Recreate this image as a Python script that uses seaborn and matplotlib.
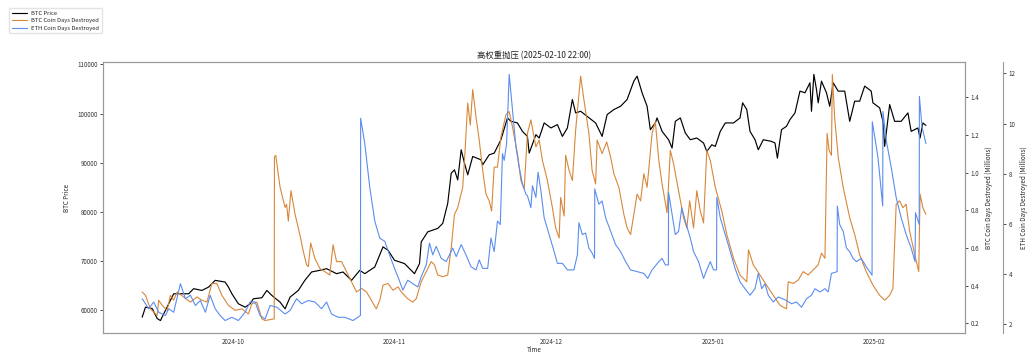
import matplotlib
matplotlib.use("Agg")
import matplotlib.pyplot as plt
import matplotlib.dates as mdates
import pandas as pd
import seaborn as sns

# BTC price
btc_time = [
    "2024-09-13 13:00", "2024-09-14 04:00", "2024-09-15 11:00", "2024-09-16 10:00", "2024-09-17 01:00", "2024-09-18 00:00", "2024-09-19 14:00", "2024-09-20 13:00", "2024-09-22 11:00", "2024-09-23 10:00",
    "2024-09-25 00:00", "2024-09-26 07:00", "2024-09-27 13:00", "2024-09-29 11:00", "2024-09-30 02:00", "2024-09-30 18:00", "2024-10-02 00:00", "2024-10-03 07:00", "2024-10-04 06:00", "2024-10-04 21:00",
    "2024-10-06 12:00", "2024-10-07 11:00", "2024-10-08 10:00", "2024-10-10 00:00", "2024-10-10 23:00", "2024-10-11 22:00", "2024-10-13 12:00", "2024-10-14 18:00", "2024-10-16 01:00", "2024-10-17 15:00",
    "2024-10-18 22:00", "2024-10-20 20:00", "2024-10-22 02:00", "2024-10-23 17:00", "2024-10-25 07:00", "2024-10-26 06:00", "2024-10-28 04:00", "2024-10-29 18:00", "2024-10-30 17:00", "2024-10-31 23:00",
    "2024-11-02 21:00", "2024-11-04 19:00", "2024-11-05 18:00", "2024-11-06 02:00", "2024-11-07 08:00", "2024-11-09 06:00", "2024-11-10 05:00", "2024-11-11 04:00", "2024-11-11 20:00", "2024-11-12 11:00",
    "2024-11-13 02:00", "2024-11-13 18:00", "2024-11-14 09:00", "2024-11-15 00:00", "2024-11-15 23:00", "2024-11-17 13:00", "2024-11-17 21:00", "2024-11-19 03:00", "2024-11-20 02:00", "2024-11-21 09:00",
    "2024-11-22 15:00", "2024-11-23 07:00", "2024-11-24 13:00", "2024-11-25 12:00", "2024-11-26 11:00", "2024-11-26 19:00", "2024-11-28 02:00", "2024-11-28 17:00", "2024-11-29 16:00", "2024-11-30 23:00",
    "2024-12-02 05:00", "2024-12-03 04:00", "2024-12-04 03:00", "2024-12-05 02:00", "2024-12-05 17:00", "2024-12-06 16:00", "2024-12-07 22:00", "2024-12-09 13:00", "2024-12-10 19:00", "2024-12-11 18:00",
    "2024-12-13 01:00", "2024-12-14 08:00", "2024-12-15 14:00", "2024-12-16 21:00", "2024-12-17 12:00", "2024-12-18 11:00", "2024-12-19 10:00", "2024-12-20 01:00", "2024-12-21 00:00", "2024-12-21 08:00",
    "2024-12-22 07:00", "2024-12-23 13:00", "2024-12-24 05:00", "2024-12-24 20:00", "2024-12-25 19:00", "2024-12-26 18:00", "2024-12-27 17:00", "2024-12-28 23:00", "2024-12-30 06:00", "2024-12-30 21:00",
    "2024-12-31 20:00", "2025-01-01 12:00", "2025-01-02 11:00", "2025-01-03 10:00", "2025-01-05 00:00", "2025-01-06 06:00", "2025-01-06 18:00", "2025-01-07 13:00", "2025-01-08 04:00", "2025-01-09 03:00",
    "2025-01-09 18:00", "2025-01-10 17:00", "2025-01-12 07:00", "2025-01-12 23:00", "2025-01-13 10:00", "2025-01-14 05:00", "2025-01-15 04:00", "2025-01-15 20:00", "2025-01-16 19:00", "2025-01-17 18:00",
    "2025-01-18 17:00", "2025-01-19 16:00", "2025-01-19 23:00", "2025-01-20 10:00", "2025-01-20 22:00", "2025-01-21 06:00", "2025-01-21 21:00", "2025-01-22 20:00", "2025-01-23 11:00", "2025-01-24 03:00",
    "2025-01-25 02:00", "2025-01-26 08:00", "2025-01-27 07:00", "2025-01-28 06:00", "2025-01-29 05:00", "2025-01-30 04:00", "2025-01-31 10:00", "2025-01-31 18:00", "2025-02-02 01:00", "2025-02-02 16:00",
    "2025-02-03 00:00", "2025-02-03 23:00", "2025-02-04 22:00", "2025-02-06 04:00", "2025-02-07 11:00", "2025-02-08 02:00", "2025-02-09 09:00", "2025-02-09 19:00", "2025-02-10 08:00", "2025-02-10 22:00",
]
btc_price = [
    58630, 60680, 60400, 58370, 57960, 60000, 63400, 63400, 63400, 64430,
    64080, 64760, 66120, 65780, 64760, 63400, 61360, 60680, 61360, 62380,
    62590, 64080, 63060, 61700, 60340, 62720, 64080, 66120, 67820, 68160,
    68500, 67480, 67820, 66120, 68160, 67480, 68840, 72920, 72240, 70200,
    69530, 67480, 69530, 73940, 75980, 76670, 77690, 81770, 87900, 88570,
    86530, 92650, 89940, 87550, 91290, 90610, 89590, 91630, 91970, 94690,
    99120, 98430, 98100, 96390, 95370, 91970, 95710, 95040, 98100, 97080,
    97760, 95370, 97080, 102860, 100140, 100470, 99450, 98100, 95370, 99800,
    100820, 101490, 102860, 106590, 107610, 104220, 101490, 96730, 98100, 99120,
    96390, 94690, 93000, 98430, 99120, 96060, 94690, 95040, 94020, 92310,
    93670, 93330, 96390, 98100, 98100, 99120, 102180, 100820, 96390, 94690,
    92650, 94690, 94350, 94020, 90960, 96730, 97420, 98780, 100140, 104560,
    104220, 106260, 100470, 107960, 104900, 102180, 106590, 104220, 101490, 106260,
    104560, 104560, 98430, 102520, 102520, 105580, 104560, 102180, 101160, 98430,
    93330, 101840, 98430, 98430, 100140, 96390, 97080, 95040, 98100, 97600,
]

# BTC coin days destroyed (millions)
btc_cdd_time = [
    "2024-09-13 13:00", "2024-09-14 04:00", "2024-09-15 03:00", "2024-09-16 10:00", "2024-09-16 17:00", "2024-09-17 09:00", "2024-09-18 08:00", "2024-09-18 23:00", "2024-09-19 14:00", "2024-09-20 06:00",
    "2024-09-21 12:00", "2024-09-22 19:00", "2024-09-24 01:00", "2024-09-25 00:00", "2024-09-25 23:00", "2024-09-26 22:00", "2024-09-27 21:00", "2024-09-28 20:00", "2024-09-30 02:00", "2024-10-01 09:00",
    "2024-10-02 16:00", "2024-10-03 22:00", "2024-10-04 14:00", "2024-10-05 13:00", "2024-10-06 12:00", "2024-10-07 03:00", "2024-10-08 21:00", "2024-10-08 22:00", "2024-10-09 04:00", "2024-10-10 00:00",
    "2024-10-10 23:00", "2024-10-11 06:00", "2024-10-11 14:00", "2024-10-12 02:00", "2024-10-12 21:00", "2024-10-13 19:00", "2024-10-14 11:00", "2024-10-15 02:00", "2024-10-15 10:00", "2024-10-15 21:00",
    "2024-10-16 16:00", "2024-10-17 15:00", "2024-10-18 14:00", "2024-10-19 13:00", "2024-10-20 04:00", "2024-10-20 20:00", "2024-10-21 19:00", "2024-10-22 18:00", "2024-10-23 17:00", "2024-10-24 16:00",
    "2024-10-25 15:00", "2024-10-26 14:00", "2024-10-27 12:00", "2024-10-28 11:00", "2024-10-29 03:00", "2024-10-29 18:00", "2024-10-30 17:00", "2024-10-31 16:00", "2024-11-01 15:00", "2024-11-02 06:00",
    "2024-11-03 12:00", "2024-11-04 11:00", "2024-11-05 03:00", "2024-11-06 02:00", "2024-11-07 01:00", "2024-11-08 00:00", "2024-11-08 15:00", "2024-11-09 06:00", "2024-11-10 05:00", "2024-11-11 04:00",
    "2024-11-11 20:00", "2024-11-12 11:00", "2024-11-13 02:00", "2024-11-14 01:00", "2024-11-14 12:00", "2024-11-15 00:00", "2024-11-15 12:00", "2024-11-15 23:00", "2024-11-16 14:00", "2024-11-17 05:00",
    "2024-11-17 21:00", "2024-11-18 12:00", "2024-11-19 03:00", "2024-11-19 14:00", "2024-11-20 02:00", "2024-11-20 17:00", "2024-11-21 09:00", "2024-11-22 08:00", "2024-11-22 23:00", "2024-11-23 14:00",
    "2024-11-24 13:00", "2024-11-25 05:00", "2024-11-25 20:00", "2024-11-26 11:00", "2024-11-27 03:00", "2024-11-28 02:00", "2024-11-28 17:00", "2024-11-29 08:00", "2024-11-30 07:00", "2024-12-01 06:00",
    "2024-12-01 21:00", "2024-12-02 13:00", "2024-12-02 20:00", "2024-12-03 12:00", "2024-12-03 19:00", "2024-12-04 11:00", "2024-12-05 02:00", "2024-12-05 17:00", "2024-12-06 16:00", "2024-12-07 07:00",
    "2024-12-08 06:00", "2024-12-08 21:00", "2024-12-09 13:00", "2024-12-09 20:00", "2024-12-10 19:00", "2024-12-11 16:00", "2024-12-12 10:00", "2024-12-13 01:00", "2024-12-14 00:00", "2024-12-14 23:00",
    "2024-12-15 14:00", "2024-12-16 06:00", "2024-12-16 21:00", "2024-12-17 12:00", "2024-12-18 04:00", "2024-12-18 19:00", "2024-12-19 10:00", "2024-12-20 09:00", "2024-12-21 00:00", "2024-12-21 16:00",
    "2024-12-22 07:00", "2024-12-23 06:00", "2024-12-23 21:00", "2024-12-24 12:00", "2024-12-25 11:00", "2024-12-26 10:00", "2024-12-27 01:00", "2024-12-27 14:00", "2024-12-28 08:00", "2024-12-28 23:00",
    "2024-12-29 15:00", "2024-12-30 06:00", "2024-12-30 21:00", "2024-12-31 13:00", "2025-01-01 12:00", "2025-01-02 18:00", "2025-01-03 17:00", "2025-01-05 00:00", "2025-01-06 06:00", "2025-01-07 13:00",
    "2025-01-07 21:00", "2025-01-08 19:00", "2025-01-10 02:00", "2025-01-11 08:00", "2025-01-12 15:00", "2025-01-13 22:00", "2025-01-15 04:00", "2025-01-15 12:00", "2025-01-16 11:00", "2025-01-17 10:00",
    "2025-01-18 09:00", "2025-01-19 08:00", "2025-01-20 07:00", "2025-01-21 06:00", "2025-01-21 21:00", "2025-01-22 13:00", "2025-01-22 23:00", "2025-01-23 08:00", "2025-01-23 19:00", "2025-01-23 23:00",
    "2025-01-24 10:00", "2025-01-25 02:00", "2025-01-26 01:00", "2025-01-27 07:00", "2025-01-28 06:00", "2025-01-29 05:00", "2025-01-30 11:00", "2025-01-31 18:00", "2025-02-02 01:00", "2025-02-03 00:00",
    "2025-02-03 23:00", "2025-02-04 14:00", "2025-02-05 05:00", "2025-02-05 21:00", "2025-02-06 12:00", "2025-02-07 03:00", "2025-02-07 19:00", "2025-02-08 17:00", "2025-02-09 13:00", "2025-02-09 19:00",
    "2025-02-10 08:00", "2025-02-10 22:00",
]
btc_cdd = [
    0.366, 0.348, 0.276, 0.241, 0.322, 0.295, 0.268, 0.348, 0.322, 0.366,
    0.339, 0.312, 0.339, 0.322, 0.312, 0.411, 0.411, 0.348, 0.295, 0.268,
    0.276, 0.249, 0.303, 0.312, 0.223, 0.214, 0.223, 1.083, 1.092, 0.922,
    0.815, 0.832, 0.742, 0.904, 0.778, 0.671, 0.581, 0.510, 0.500, 0.626,
    0.545, 0.491, 0.474, 0.456, 0.617, 0.527, 0.527, 0.474, 0.420, 0.366,
    0.384, 0.366, 0.322, 0.276, 0.322, 0.402, 0.411, 0.375, 0.393, 0.366,
    0.330, 0.312, 0.330, 0.420, 0.474, 0.527, 0.510, 0.456, 0.447, 0.456,
    0.599, 0.778, 0.814, 0.922, 1.119, 1.370, 1.253, 1.441, 1.298, 1.173,
    1.011, 0.886, 0.850, 0.796, 1.029, 1.029, 1.190, 1.307, 1.325, 1.244,
    1.101, 0.958, 0.913, 1.209, 1.280, 1.137, 1.173, 1.065, 0.958, 0.814,
    0.706, 0.653, 0.868, 0.769, 1.092, 1.011, 0.958, 1.226, 1.513, 1.388,
    1.209, 1.011, 0.940, 1.173, 1.101, 1.163, 1.083, 0.994, 0.922, 0.778,
    0.706, 0.671, 0.778, 0.886, 0.850, 0.994, 0.922, 1.209, 1.270, 1.065,
    0.940, 0.787, 1.119, 1.047, 0.904, 0.760, 0.706, 0.850, 0.706, 0.904,
    0.796, 0.733, 1.119, 1.065, 0.922, 0.796, 0.671, 0.545, 0.456, 0.420,
    0.590, 0.510, 0.456, 0.402, 0.348, 0.295, 0.276, 0.420, 0.411, 0.429,
    0.474, 0.456, 0.483, 0.510, 0.572, 0.545, 1.209, 1.119, 1.092, 1.522,
    1.289, 1.083, 0.922, 0.760, 0.671, 0.563, 0.474, 0.402, 0.348, 0.322,
    0.348, 0.384, 0.832, 0.850, 0.814, 0.832, 0.689, 0.572, 0.474, 0.886,
    0.814, 0.778,
]

# ETH coin days destroyed (millions)
eth_cdd_time = [
    "2024-09-13 13:00", "2024-09-14 19:00", "2024-09-15 18:00", "2024-09-16 17:00", "2024-09-18 00:00", "2024-09-18 15:00", "2024-09-19 14:00", "2024-09-20 21:00", "2024-09-21 20:00", "2024-09-22 19:00",
    "2024-09-23 18:00", "2024-09-24 17:00", "2024-09-25 16:00", "2024-09-26 14:00", "2024-09-27 13:00", "2024-09-28 12:00", "2024-09-29 11:00", "2024-09-30 18:00", "2024-10-02 00:00", "2024-10-03 07:00",
    "2024-10-04 06:00", "2024-10-05 05:00", "2024-10-06 04:00", "2024-10-07 03:00", "2024-10-08 02:00", "2024-10-09 09:00", "2024-10-10 23:00", "2024-10-11 22:00", "2024-10-13 04:00", "2024-10-14 03:00",
    "2024-10-15 10:00", "2024-10-16 16:00", "2024-10-17 23:00", "2024-10-18 22:00", "2024-10-19 21:00", "2024-10-21 03:00", "2024-10-22 10:00", "2024-10-24 00:00", "2024-10-25 10:00", "2024-10-25 11:00",
    "2024-10-26 06:00", "2024-10-27 05:00", "2024-10-28 04:00", "2024-10-29 03:00", "2024-10-30 02:00", "2024-10-31 00:00", "2024-10-31 23:00", "2024-11-01 22:00", "2024-11-02 13:00", "2024-11-03 12:00",
    "2024-11-04 11:00", "2024-11-05 10:00", "2024-11-06 02:00", "2024-11-07 01:00", "2024-11-07 16:00", "2024-11-08 07:00", "2024-11-08 23:00", "2024-11-09 22:00", "2024-11-10 21:00", "2024-11-12 03:00",
    "2024-11-12 19:00", "2024-11-13 18:00", "2024-11-14 16:00", "2024-11-15 15:00", "2024-11-16 14:00", "2024-11-17 05:00", "2024-11-17 21:00", "2024-11-18 20:00", "2024-11-19 11:00", "2024-11-20 02:00",
    "2024-11-20 17:00", "2024-11-21 06:00", "2024-11-21 16:00", "2024-11-22 00:00", "2024-11-22 11:00", "2024-11-22 23:00", "2024-11-23 14:00", "2024-11-24 06:00", "2024-11-24 21:00", "2024-11-25 12:00",
    "2024-11-26 04:00", "2024-11-26 11:00", "2024-11-27 03:00", "2024-11-27 10:00", "2024-11-28 02:00", "2024-11-28 12:00", "2024-11-29 01:00", "2024-11-29 16:00", "2024-11-30 15:00", "2024-12-01 14:00",
    "2024-12-02 05:00", "2024-12-03 04:00", "2024-12-04 03:00", "2024-12-05 09:00", "2024-12-06 01:00", "2024-12-06 08:00", "2024-12-07 00:00", "2024-12-07 15:00", "2024-12-08 06:00", "2024-12-08 21:00",
    "2024-12-09 08:00", "2024-12-09 09:00", "2024-12-10 04:00", "2024-12-10 19:00", "2024-12-11 11:00", "2024-12-12 10:00", "2024-12-13 09:00", "2024-12-14 08:00", "2024-12-15 07:00", "2024-12-16 06:00",
    "2024-12-17 12:00", "2024-12-18 19:00", "2024-12-19 13:00", "2024-12-20 09:00", "2024-12-21 16:00", "2024-12-22 07:00", "2024-12-22 22:00", "2024-12-23 12:00", "2024-12-23 13:00", "2024-12-24 05:00",
    "2024-12-24 20:00", "2024-12-25 11:00", "2024-12-26 02:00", "2024-12-26 18:00", "2024-12-27 17:00", "2024-12-28 08:00", "2024-12-29 07:00", "2024-12-30 06:00", "2024-12-30 21:00", "2024-12-31 13:00",
    "2025-01-01 04:00", "2025-01-01 18:00", "2025-01-01 19:00", "2025-01-02 11:00", "2025-01-03 10:00", "2025-01-04 09:00", "2025-01-05 07:00", "2025-01-06 06:00", "2025-01-07 05:00", "2025-01-08 04:00",
    "2025-01-09 03:00", "2025-01-09 18:00", "2025-01-10 10:00", "2025-01-11 01:00", "2025-01-11 16:00", "2025-01-12 15:00", "2025-01-13 14:00", "2025-01-14 13:00", "2025-01-15 04:00", "2025-01-16 03:00",
    "2025-01-17 02:00", "2025-01-18 01:00", "2025-01-19 00:00", "2025-01-19 23:00", "2025-01-20 15:00", "2025-01-21 14:00", "2025-01-22 13:00", "2025-01-23 04:00", "2025-01-23 19:00", "2025-01-24 21:00",
    "2025-01-24 22:00", "2025-01-25 09:00", "2025-01-26 01:00", "2025-01-26 16:00", "2025-01-27 07:00", "2025-01-27 22:00", "2025-01-28 14:00", "2025-01-29 12:00", "2025-01-30 11:00", "2025-01-31 14:00",
    "2025-01-31 15:00", "2025-02-01 17:00", "2025-02-02 15:00", "2025-02-02 16:00", "2025-02-03 07:00", "2025-02-04 06:00", "2025-02-05 05:00", "2025-02-06 04:00", "2025-02-07 03:00", "2025-02-08 02:00",
    "2025-02-08 20:00", "2025-02-08 22:00", "2025-02-09 15:00", "2025-02-09 16:00", "2025-02-10 04:00", "2025-02-10 22:00",
]
eth_cdd = [
    3.01, 2.61, 2.88, 2.47, 2.34, 2.61, 2.47, 3.61, 3.01, 3.15,
    2.74, 2.94, 2.47, 3.15, 2.61, 2.34, 2.14, 2.27, 2.14, 2.47,
    2.88, 2.88, 2.34, 2.20, 2.74, 2.67, 2.40, 2.54, 3.01, 2.81,
    2.94, 2.88, 2.61, 2.88, 2.40, 2.27, 2.27, 2.14, 2.34, 10.21,
    9.20, 7.45, 6.11, 5.43, 5.30, 4.76, 4.22, 3.72, 3.35, 3.75,
    3.61, 3.48, 3.89, 4.36, 5.23, 4.76, 5.10, 4.62, 4.49, 5.03,
    4.69, 5.17, 4.76, 4.29, 4.16, 4.56, 4.22, 4.22, 5.43, 4.89,
    6.11, 5.97, 8.80, 8.53, 9.20, 11.96, 10.55, 9.07, 8.26, 7.59,
    7.18, 7.12, 6.64, 7.52, 7.05, 8.06, 7.32, 6.24, 5.57, 4.89,
    4.42, 4.42, 4.16, 4.16, 4.76, 6.04, 5.57, 5.63, 5.03, 4.83,
    4.62, 7.39, 6.78, 6.91, 6.24, 5.70, 5.17, 4.89, 4.49, 4.16,
    4.09, 4.02, 3.82, 4.16, 4.49, 4.62, 4.36, 4.36, 7.25, 6.38,
    5.57, 5.70, 6.64, 6.11, 5.43, 4.89, 4.49, 3.82, 4.16, 4.49,
    4.16, 4.16, 7.05, 6.24, 5.57, 4.89, 4.22, 3.68, 3.41, 3.15,
    3.41, 4.02, 3.41, 3.61, 3.15, 2.88, 3.08, 3.00, 2.94, 2.81,
    2.88, 2.67, 3.01, 3.15, 3.41, 3.28, 3.41, 3.28, 4.02, 4.09,
    6.71, 5.97, 5.70, 5.03, 4.89, 4.62, 4.49, 4.62, 4.29, 3.95,
    10.07, 8.66, 6.71, 10.48, 9.34, 8.26, 7.05, 6.24, 5.57, 5.03,
    4.49, 6.44, 5.97, 11.08, 9.87, 9.20,
]

title = "高权重抛压 (2025-02-10 22:00)"

sns.set_theme(style="white")
plt.rcParams["font.family"] = ["Noto Sans CJK SC", "DejaVu Sans"]
plt.rcParams["axes.unicode_minus"] = False

df_price = pd.DataFrame({"Time": pd.to_datetime(btc_time), "Value": btc_price})
df_btc = pd.DataFrame({"Time": pd.to_datetime(btc_cdd_time), "Value": btc_cdd})
df_eth = pd.DataFrame({"Time": pd.to_datetime(eth_cdd_time), "Value": eth_cdd})

fig = plt.figure(figsize=(10.3, 3.61), dpi=100)
ax = fig.add_axes([0.1, 0.078, 0.837, 0.75])
ax2 = ax.twinx()
ax3 = ax.twinx()
ax3.spines["right"].set_position(("axes", 1.044))

sns.lineplot(x="Time", y="Value", data=df_price, ax=ax, color="black", lw=0.85, label="BTC Price", legend=False)
sns.lineplot(x="Time", y="Value", data=df_btc, ax=ax2, color="#d8873a", lw=0.8, label="BTC Coin Days Destroyed", legend=False)
sns.lineplot(x="Time", y="Value", data=df_eth, ax=ax3, color="#5b8def", lw=0.8, label="ETH Coin Days Destroyed", legend=False)

fs = 4.5
ax.set_title(title, fontsize=6, pad=3)
ax.set_xlabel("Time", fontsize=fs, labelpad=0)
ax.set_ylabel("BTC Price", fontsize=fs, labelpad=4)
ax2.set_ylabel("BTC Coin Days Destroyed (Millions)", fontsize=fs, labelpad=4)
ax3.set_ylabel("ETH Coin Days Destroyed (Millions)", fontsize=fs, labelpad=3)

ax.xaxis.set_major_locator(mdates.MonthLocator())
ax.xaxis.set_major_formatter(mdates.DateFormatter("%Y-%m"))

for a in (ax, ax2, ax3):
    a.tick_params(labelsize=fs, length=2, width=0.6, pad=2, colors="#333333")
    for s in a.spines.values():
        s.set_color("#999999")
        s.set_linewidth(0.8)
    a.grid(False)
ax3.spines["left"].set_visible(False)
ax3.spines["top"].set_visible(False)
ax3.spines["bottom"].set_visible(False)

handles, labels = [], []
for a in (ax, ax2, ax3):
    h, l = a.get_legend_handles_labels()
    handles += h
    labels += l
fig.legend(handles, labels, loc="upper left", bbox_to_anchor=(0.006, 0.985), fontsize=4.2,
           frameon=True, handlelength=2.5, borderpad=0.5, labelspacing=0.35, edgecolor="#dddddd")

fig.savefig("out.png", dpi=100)
plt.close(fig)
